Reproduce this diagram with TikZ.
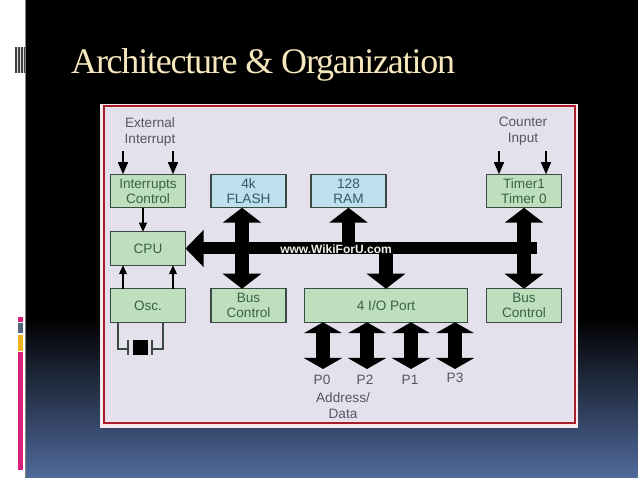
\documentclass[tikz,border=0pt]{standalone}
\usepackage{fontspec}
\setmainfont{Liberation Sans}
\newfontfamily\titlefont[LetterSpace=-3.4]{Liberation Serif}
\usetikzlibrary{arrows.meta}
\definecolor{panelc}{HTML}{E4E0EC}
\definecolor{greenc}{HTML}{BEDFBE}
\definecolor{bluec}{HTML}{BEE0EC}
\definecolor{edgec}{HTML}{3A4A42}
\definecolor{redc}{HTML}{A81C2C}
\definecolor{palec}{HTML}{F2D8DE}
\definecolor{labelc}{HTML}{55585C}
\definecolor{gtext}{HTML}{3A6044}
\definecolor{btext}{HTML}{2E5A68}
\definecolor{titlec}{HTML}{F6E7BC}
\definecolor{bottomc}{HTML}{506A9C}
\definecolor{pinkc}{HTML}{D8207A}
\definecolor{amberc}{HTML}{F2B21E}
\definecolor{slatec}{HTML}{50647A}
\tikzset{
  block/.style={draw=edgec,line width=1.4pt,minimum height=33.5pt,align=center,inner sep=0pt,outer sep=0pt,font=\fontsize{13.6}{15}\selectfont},
  gblock/.style={block,fill=greenc,text=gtext,minimum width=75pt},
  bblock/.style={block,fill=bluec,text=btext,minimum width=75pt},
  lab/.style={text=labelc,align=center,inner sep=0pt,font=\fontsize{13.6}{16}\selectfont},
  thin arrow/.style={draw=black,line width=1.3pt,-{Triangle[width=10pt,length=12pt]}},
  small arrow/.style={draw=black,line width=1.3pt,-{Triangle[width=8pt,length=9pt]}},
  fat/.style={draw=black,line width=13.5pt,line cap=butt},
  fat one/.style={fat,-{Triangle[width=38pt,length=15pt]}},
  fat two/.style={fat,{Triangle[width=38pt,length=15pt]}-{Triangle[width=38pt,length=15pt]}},
  fat port/.style={fat,{Triangle[width=38pt,length=11pt]}-{Triangle[width=38pt,length=11pt]}},
  wire/.style={draw=edgec,line width=1.2pt}
}
\begin{document}
\begin{tikzpicture}[x=1pt,y=-1pt]
\useasboundingbox (0,0) rectangle (638,478);
% slide background
\fill[white] (0,0) rectangle (25,478);
\fill[black] (25,0) rectangle (638,320);
\shade[top color=black,bottom color=bottomc] (25,318) rectangle (638,478);
\draw[gray,line width=.6pt] (25,0) -- (25,478);
% slide ornaments
\fill[black!75] (15,47) rectangle (25,73);
\foreach \x in {17,20,23}{\fill[white!75!gray] (\x,47) rectangle (\x+1,73);}
\fill[pinkc] (18,317) rectangle (23,322);
\fill[slatec] (18,323) rectangle (23,333);
\fill[amberc] (18,335) rectangle (23,351);
\fill[pinkc] (18,352) rectangle (23,470);
% title
\node[anchor=base west,inner sep=0pt,text=titlec,font=\titlefont\fontsize{36}{40}\selectfont] (title) at (71,74) {Architecture \& Organization};
% panel
\fill[palec!60!white] (100,104) rectangle (578,428);
\draw[redc,line width=2pt] (103.5,106) rectangle (574.5,423);
\fill[panelc] (105,108) rectangle (573,421);
% blocks
\node[gblock] (irq) at (148,191) {Interrupts\\Control};
\node[bblock] (flash) at (248.5,191) {4k\\FLASH};
\node[bblock] (ram) at (348.5,191) {128\\RAM};
\node[gblock] (timer) at (524,191) {Timer1\\Timer 0};
\node[gblock] (cpu) at (148,248.5) {CPU};
\node[gblock] (osc) at (148,305.5) {Osc.};
\node[gblock] (busl) at (248.5,305.5) {Bus\\Control};
\node[gblock,minimum width=163pt] (io) at (386,305.5) {4 I/O Port};
\node[gblock] (busr) at (524,305.5) {Bus\\Control};
% labels
\node[lab] (ext) at (150,131.5) {External\\Interrupt};
\node[lab] (cnt) at (523,131.5) {Counter\\Input};
\node[lab] (p0) at (322,380) {P0};
\node[lab] (p2) at (365,380) {P2};
\node[lab] (p1) at (410,380) {P1};
\node[lab] (p3) at (455,378) {P3};
\node[lab] (addr) at (343,406) {Address/\\Data};
% thin arrows
\coordinate (e1) at (123,151); \coordinate (e2) at (173,151);
\coordinate (c1) at (499,151); \coordinate (c2) at (546,151);
\draw[thin arrow] (e1) -- (e1 |- irq.north);
\draw[thin arrow] (e2) -- (e2 |- irq.north);
\draw[thin arrow] (c1) -- (c1 |- timer.north);
\draw[thin arrow] (c2) -- (c2 |- timer.north);
\draw[small arrow] ([xshift=-5pt]irq.south) -- ([xshift=-5pt]cpu.north);
\draw[small arrow] (e1 |- osc.north) -- (e1 |- cpu.south);
\draw[small arrow] (e2 |- osc.north) -- (e2 |- cpu.south);
% main bus
\coordinate (busend) at (537,248.5);
\coordinate (f) at (242,248);
\draw[fat,line width=12pt,-{Triangle[width=36pt,length=18pt]}] (busend) -- (cpu.east);
\draw[fat two] (f |- flash.south) -- (f |- busl.north);
\draw[fat two] (timer.south) -- (busr.north);
\draw[fat one] (ram.south |- busend) -- (ram.south);
\draw[fat one] (io.north |- busend) -- (io.north);
% port arrows
\coordinate (a0) at (323,369); \coordinate (a2) at (367,369);
\coordinate (a1) at (411,369); \coordinate (a3) at (455,369);
\draw[fat port] (a0 |- io.south) -- (a0);
\draw[fat port] (a2 |- io.south) -- (a2);
\draw[fat port] (a1 |- io.south) -- (a1);
\draw[fat port] (a3 |- io.south) -- (a3);
% crystal
\coordinate (xl) at (118,349); \coordinate (xr) at (163,349);
\draw[wire] (xl |- osc.south) -- (xl) -- (128,349);
\draw[wire] (xr |- osc.south) -- (xr) -- (152,349);
\draw[wire,line width=1.8pt] (128,340) -- (128,355);
\draw[wire,line width=1.8pt] (152,340) -- (152,355);
\node[fill=black,minimum width=15pt,minimum height=15pt,inner sep=0pt] (xtal) at (140.5,347.5) {};
% watermark
\node[text=white!88!gray,inner sep=0pt,font=\bfseries\fontsize{12}{14}\selectfont] (wm) at (336,249) {www.WikiForU.com};
\end{tikzpicture}
\end{document}
